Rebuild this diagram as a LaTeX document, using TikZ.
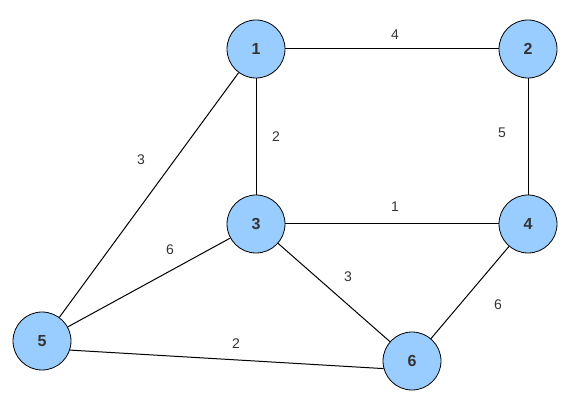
\documentclass[tikz,border=0pt]{standalone}
\usepackage{fontspec}
\setmainfont{Liberation Sans}
\usetikzlibrary{positioning}
\definecolor{nodeblue}{HTML}{99CCFF}
\definecolor{textgrey}{HTML}{333333}

\begin{document}
\begin{tikzpicture}[x=1pt, y=-1pt]
    % Styles for the vertices and the weights
    \tikzset{
        vertex/.style={circle, draw=black, thick, fill=nodeblue, minimum size=58pt,
            inner sep=0pt, text=textgrey, font=\fontsize{16}{18}\selectfont\bfseries},
        weight/.style={text=textgrey, font=\fontsize{14}{16}\selectfont},
        edge/.style={draw=black, line width=1pt}
    }
    \useasboundingbox (0,0) rectangle (583,411);

    % Vertices
    \node[vertex] (v1) at (256,49) {1};
    \node[vertex] (v2) at (528,49) {2};
    \node[vertex] (v3) at (256,224) {3};
    \node[vertex] (v4) at (528,224) {4};
    \node[vertex] (v5) at (42,341) {5};
    \node[vertex] (v6) at (412,361) {6};

    % Edges
    \draw[edge] (v1) -- (v2);
    \draw[edge] (v1) -- (v3);
    \draw[edge] (v1) -- (v5);
    \draw[edge] (v2) -- (v4);
    \draw[edge] (v3) -- (v4);
    \draw[edge] (v3) -- (v5);
    \draw[edge] (v3) -- (v6);
    \draw[edge] (v4) -- (v6);
    \draw[edge] (v5.-18) -- (v6.195);

    % Weights
    \node[weight] (w12) at (395,35) {4};
    \node[weight] (w13) at (276,137) {2};
    \node[weight] (w24) at (502,133) {5};
    \node[weight] (w15) at (141,160) {3};
    \node[weight] (w34) at (395,207) {1};
    \node[weight] (w35) at (170,250) {6};
    \node[weight] (w36) at (348,277) {3};
    \node[weight] (w46) at (498,305) {6};
    \node[weight] (w56) at (236,344) {2};
\end{tikzpicture}
\end{document}
